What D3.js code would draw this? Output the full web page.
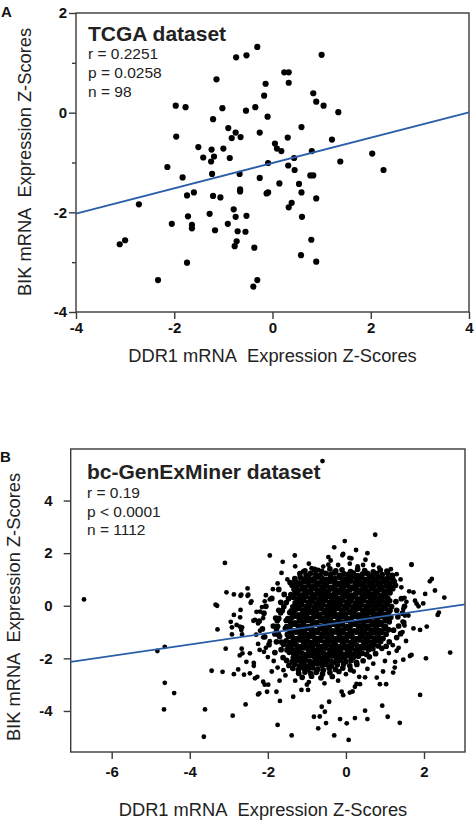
<!DOCTYPE html>
<html>
<head>
<meta charset="utf-8">
<script src="https://cdn.jsdelivr.net/npm/d3@7"></script>
<style>
  html, body { margin: 0; padding: 0; background: #fff; }
  svg { display: block; font-family: "Liberation Sans", Arial, Helvetica, sans-serif; }
</style>
</head>
<body>
<svg id="chart" width="474" height="828"></svg>
<script>
// ---------- Panel A : TCGA dataset ----------
const tcgaPoints = [
  [-0.31,1.32],[-0.74,1.11],[-0.53,1.15],[1.00,1.16],[0.24,0.81],[0.33,0.81],[0.33,0.60],[-1.14,0.67],
  [-0.14,0.58],[-0.17,0.34],[0.83,0.39],[0.89,0.22],[1.04,0.14],[1.34,0.01],[-1.97,0.14],[-1.77,0.11],
  [-1.02,0.09],[-0.54,0.04],[-0.35,0.11],[-0.10,-0.08],[-1.21,-0.13],[-1.96,-0.48],[-0.90,-0.31],[-0.83,-0.51],
  [-0.75,-0.40],[-0.65,-0.49],[-0.26,-0.40],[0.59,-0.29],[0.31,-0.50],[1.21,-0.54],[-1.51,-0.69],[-1.24,-0.74],
  [-1.00,-0.72],[-1.41,-0.90],[-1.19,-0.88],[-1.25,-0.98],[-0.87,-0.91],[0.05,-0.62],[0.09,-0.72],[0.18,-0.77],
  [0.80,-0.77],[0.44,-0.91],[1.38,-0.98],[2.03,-0.82],[2.26,-1.15],[-2.14,-1.09],[-1.83,-1.30],[-1.23,-1.23],
  [-0.67,-1.23],[-0.26,-1.31],[-0.09,-1.01],[0.32,-1.06],[0.45,-1.15],[0.14,-1.42],[0.54,-1.43],[0.77,-1.26],
  [0.83,-1.26],[-1.60,-1.60],[-1.74,-1.66],[-1.21,-1.67],[-1.06,-1.70],[-0.66,-1.54],[-0.66,-1.58],[-0.12,-1.62],
  [-0.09,-1.60],[0.59,-1.60],[0.89,-1.72],[0.39,-1.81],[0.33,-1.90],[-2.72,-1.84],[-1.28,-2.03],[-1.72,-2.08],
  [-0.79,-1.94],[-0.75,-2.09],[-0.53,-2.07],[0.60,-2.09],[-2.05,-2.23],[-1.64,-2.25],[-1.64,-2.32],[-1.17,-2.36],
  [-0.91,-2.23],[-0.71,-2.38],[-0.55,-2.39],[-3.11,-2.64],[-3.00,-2.56],[-0.73,-2.58],[-0.77,-2.68],[-0.37,-2.71],
  [0.79,-2.55],[0.58,-2.86],[0.89,-2.99],[-1.74,-3.01],[-2.33,-3.36],[-0.31,-3.36],[-0.39,-3.49]
];
const tcgaFit = [0.254, -1.01];           // slope, intercept
const tcgaXTicks = [-4, -2, 0, 2, 4];
const tcgaYTicks = [-4, -2, 0, 2];
const tcgaYMinor = [-3, -1, 1];
const tcgaStats = ["r = 0.2251", "p = 0.0258", "n = 98"];

// ---------- Panel B : bc-GenExMiner dataset ----------
const bcCore = [
  [-1.05,1.33],[-0.8,1.38],[-0.62,1.31],[-0.41,1.4],[-0.26,1.33],[-0.1,1.37],[0.12,1.3],[0.3,1.39],[0.48,1.34],[0.7,1.29],[0.88,1.36],[1.05,1.32],
  [-1.18,1.22],[-1.02,1.17],[-0.9,1.24],[-0.77,1.19],[-0.66,1.15],[-0.52,1.23],[-0.4,1.18],[-0.3,1.25],[-0.17,1.16],[-0.05,1.21],[0.06,1.19],[0.19,1.24],[0.3,1.15],[0.42,1.2],[0.55,1.23],[0.68,1.17],[0.79,1.22],[0.93,1.18],[1.07,1.24],[1.19,1.16],
  [-1.31,1.03],[-1.17,1.08],[-1.06,1.01],[-0.95,1.06],[-0.83,1.02],[-0.73,1.09],[-0.61,1.04],[-0.5,1.0],[-0.39,1.07],[-0.28,1.03],[-0.16,1.08],[-0.06,1.01],[0.05,1.05],[0.16,1.09],[0.27,1.02],[0.39,1.06],[0.5,1.0],[0.61,1.08],[0.72,1.03],[0.84,1.07],[0.95,1.01],[1.07,1.05],[1.2,1.02],
  [-1.43,0.88],[-1.3,0.93],[-1.19,0.87],[-1.08,0.92],[-0.97,0.89],[-0.86,0.94],[-0.75,0.87],[-0.64,0.91],[-0.53,0.86],[-0.42,0.93],[-0.31,0.9],[-0.2,0.85],[-0.09,0.92],[0.02,0.88],[0.13,0.94],[0.24,0.87],[0.35,0.91],[0.46,0.86],[0.57,0.93],[0.68,0.89],[0.79,0.94],[0.9,0.87],[1.01,0.91],[1.12,0.86],[1.24,0.92],
  [-1.38,0.78],[-1.27,0.74],[-1.16,0.79],[-1.05,0.71],[-0.94,0.76],[-0.83,0.73],[-0.72,0.79],[-0.61,0.72],[-0.5,0.77],[-0.39,0.7],[-0.28,0.75],[-0.17,0.8],[-0.06,0.73],[0.05,0.77],[0.16,0.71],[0.27,0.76],[0.38,0.79],[0.49,0.72],[0.6,0.77],[0.71,0.74],[0.82,0.79],[0.93,0.71],[1.04,0.76],[1.15,0.73],[1.27,0.78],
  [-1.72,0.62],[-1.33,0.63],[-1.22,0.58],[-1.11,0.64],[-1.0,0.56],[-0.89,0.61],[-0.78,0.65],[-0.67,0.58],[-0.56,0.62],[-0.45,0.57],[-0.34,0.64],[-0.23,0.59],[-0.12,0.63],[-0.01,0.56],[0.1,0.61],[0.21,0.65],[0.32,0.58],[0.43,0.62],[0.54,0.57],[0.65,0.64],[0.76,0.59],[0.87,0.63],[0.98,0.56],[1.09,0.61],[1.2,0.65],
  [-1.58,0.43],[-1.41,0.42],[-1.29,0.47],[-1.18,0.41],[-1.07,0.46],[-0.96,0.49],[-0.85,0.42],[-0.74,0.47],[-0.63,0.43],[-0.52,0.48],[-0.41,0.41],[-0.3,0.45],[-0.19,0.5],[-0.08,0.43],[0.03,0.47],[0.14,0.41],[0.25,0.46],[0.36,0.49],[0.47,0.42],[0.58,0.47],[0.69,0.43],[0.8,0.48],[0.91,0.41],[1.02,0.45],[1.13,0.49],
  [-1.9,0.28],[-1.47,0.27],[-1.35,0.32],[-1.24,0.26],[-1.13,0.31],[-1.02,0.35],[-0.91,0.28],[-0.8,0.32],[-0.69,0.26],[-0.58,0.31],[-0.47,0.34],[-0.36,0.27],[-0.25,0.32],[-0.14,0.28],[-0.03,0.35],[0.08,0.29],[0.19,0.33],[0.3,0.26],[0.41,0.31],[0.52,0.35],[0.63,0.28],[0.74,0.32],[0.85,0.27],[0.96,0.33],[1.07,0.29],[1.42,0.27],
  [-1.67,0.13],[-1.53,0.12],[-1.3,0.11],[-1.19,0.16],[-1.08,0.2],[-0.97,0.13],[-0.86,0.17],[-0.75,0.11],[-0.64,0.16],[-0.53,0.19],[-0.42,0.12],[-0.31,0.17],[-0.2,0.13],[-0.09,0.2],[0.02,0.14],[0.13,0.18],[0.24,0.11],[0.35,0.16],[0.46,0.2],[0.57,0.13],[0.68,0.17],[0.79,0.12],[0.9,0.18],[1.01,0.14],[1.12,0.19],[1.28,0.16],
  [-2.05,-0.02],[-1.59,-0.03],[-1.36,-0.04],[-1.25,0.01],[-1.14,0.05],[-1.03,-0.02],[-0.92,0.02],[-0.81,-0.04],[-0.7,0.01],[-0.59,0.04],[-0.48,-0.03],[-0.37,0.02],[-0.26,-0.02],[-0.15,0.05],[-0.04,-0.01],[0.07,0.03],[0.18,-0.04],[0.29,0.01],[0.4,0.05],[0.51,-0.02],[0.62,0.02],[0.73,-0.03],[0.84,0.03],[0.95,-0.01],[1.06,0.04],[1.17,-0.03],[1.5,-0.02],
  [-1.72,-0.17],[-1.63,-0.18],[-1.4,-0.19],[-1.29,-0.14],[-1.18,-0.1],[-1.07,-0.17],[-0.96,-0.13],[-0.85,-0.19],[-0.74,-0.14],[-0.63,-0.11],[-0.52,-0.18],[-0.41,-0.13],[-0.3,-0.17],[-0.19,-0.1],[-0.08,-0.16],[0.03,-0.12],[0.14,-0.19],[0.25,-0.14],[0.36,-0.1],[0.47,-0.17],[0.58,-0.13],[0.69,-0.18],[0.8,-0.12],[0.91,-0.16],[1.02,-0.11],[1.13,-0.18],[1.3,-0.17],
  [-2.1,-0.28],[-1.67,-0.27],[-1.44,-0.26],[-1.33,-0.31],[-1.22,-0.35],[-1.11,-0.28],[-1.0,-0.32],[-0.89,-0.26],[-0.78,-0.31],[-0.67,-0.34],[-0.56,-0.27],[-0.45,-0.32],[-0.34,-0.28],[-0.23,-0.35],[-0.12,-0.29],[-0.01,-0.33],[0.1,-0.26],[0.21,-0.31],[0.32,-0.35],[0.43,-0.28],[0.54,-0.32],[0.65,-0.27],[0.76,-0.33],[0.87,-0.29],[0.98,-0.34],[1.09,-0.27],[1.45,-0.28],
  [-1.8,-0.47],[-1.72,-0.48],[-1.49,-0.49],[-1.38,-0.44],[-1.27,-0.4],[-1.16,-0.47],[-1.05,-0.43],[-0.94,-0.49],[-0.83,-0.44],[-0.72,-0.41],[-0.61,-0.48],[-0.5,-0.43],[-0.39,-0.47],[-0.28,-0.4],[-0.17,-0.46],[-0.06,-0.42],[0.05,-0.49],[0.16,-0.44],[0.27,-0.4],[0.38,-0.47],[0.49,-0.43],[0.6,-0.48],[0.71,-0.42],[0.82,-0.46],[0.93,-0.41],[1.04,-0.48],[1.15,-0.44],[1.33,-0.42],
  [-2.22,-0.58],[-1.76,-0.57],[-1.53,-0.56],[-1.42,-0.61],[-1.31,-0.65],[-1.2,-0.58],[-1.09,-0.62],[-0.98,-0.56],[-0.87,-0.61],[-0.76,-0.64],[-0.65,-0.57],[-0.54,-0.62],[-0.43,-0.58],[-0.32,-0.65],[-0.21,-0.59],[-0.1,-0.63],[0.01,-0.56],[0.12,-0.61],[0.23,-0.65],[0.34,-0.58],[0.45,-0.62],[0.56,-0.57],[0.67,-0.63],[0.78,-0.59],[0.89,-0.64],[1.0,-0.57],[1.11,-0.61],[1.48,-0.63],
  [-1.86,-0.77],[-1.75,-0.78],[-1.52,-0.79],[-1.41,-0.74],[-1.3,-0.7],[-1.19,-0.77],[-1.08,-0.73],[-0.97,-0.79],[-0.86,-0.74],[-0.75,-0.71],[-0.64,-0.78],[-0.53,-0.73],[-0.42,-0.77],[-0.31,-0.7],[-0.2,-0.76],[-0.09,-0.72],[0.02,-0.79],[0.13,-0.74],[0.24,-0.7],[0.35,-0.77],[0.46,-0.73],[0.57,-0.78],[0.68,-0.72],[0.79,-0.76],[0.9,-0.71],[1.01,-0.78],[1.35,-0.77],
  [-2.14,-0.88],[-1.78,-0.87],[-1.55,-0.86],[-1.44,-0.91],[-1.33,-0.95],[-1.22,-0.88],[-1.11,-0.92],[-1.0,-0.86],[-0.89,-0.91],[-0.78,-0.94],[-0.67,-0.87],[-0.56,-0.92],[-0.45,-0.88],[-0.34,-0.95],[-0.23,-0.89],[-0.12,-0.93],[-0.01,-0.86],[0.1,-0.91],[0.21,-0.95],[0.32,-0.88],[0.43,-0.92],[0.54,-0.87],[0.65,-0.93],[0.76,-0.89],[0.87,-0.94],[0.98,-0.87],[1.09,-0.91],[1.22,-0.93],
  [-1.82,-1.07],[-1.73,-1.08],[-1.5,-1.09],[-1.39,-1.04],[-1.28,-1.0],[-1.17,-1.07],[-1.06,-1.03],[-0.95,-1.09],[-0.84,-1.04],[-0.73,-1.01],[-0.62,-1.08],[-0.51,-1.03],[-0.4,-1.07],[-0.29,-1.0],[-0.18,-1.06],[-0.07,-1.02],[0.04,-1.09],[0.15,-1.04],[0.26,-1.0],[0.37,-1.07],[0.48,-1.03],[0.59,-1.08],[0.7,-1.02],[0.81,-1.06],[0.92,-1.01],[1.03,-1.08],[1.4,-1.06],
  [-2.08,-1.18],[-1.7,-1.17],[-1.47,-1.16],[-1.36,-1.21],[-1.25,-1.25],[-1.14,-1.18],[-1.03,-1.22],[-0.92,-1.16],[-0.81,-1.21],[-0.7,-1.24],[-0.59,-1.17],[-0.48,-1.22],[-0.37,-1.18],[-0.26,-1.25],[-0.15,-1.19],[-0.04,-1.23],[0.07,-1.16],[0.18,-1.21],[0.29,-1.25],[0.4,-1.18],[0.51,-1.22],[0.62,-1.17],[0.73,-1.23],[0.84,-1.19],[0.95,-1.24],[1.3,-1.21],
  [-1.78,-1.37],[-1.65,-1.38],[-1.53,-1.33],[-1.42,-1.39],[-1.31,-1.34],[-1.2,-1.3],[-1.09,-1.37],[-0.98,-1.33],[-0.87,-1.39],[-0.76,-1.34],[-0.65,-1.31],[-0.54,-1.38],[-0.43,-1.33],[-0.32,-1.37],[-0.21,-1.3],[-0.1,-1.36],[0.01,-1.32],[0.12,-1.39],[0.23,-1.34],[0.34,-1.3],[0.45,-1.37],[0.56,-1.33],[0.67,-1.38],[0.78,-1.32],[0.89,-1.36],[1.11,-1.37],
  [-1.97,-1.48],[-1.6,-1.47],[-1.48,-1.52],[-1.37,-1.46],[-1.26,-1.51],[-1.15,-1.55],[-1.04,-1.48],[-0.93,-1.52],[-0.82,-1.46],[-0.71,-1.51],[-0.6,-1.54],[-0.49,-1.47],[-0.38,-1.52],[-0.27,-1.48],[-0.16,-1.55],[-0.05,-1.49],[0.06,-1.53],[0.17,-1.46],[0.28,-1.51],[0.39,-1.55],[0.5,-1.48],[0.61,-1.52],[0.72,-1.47],[0.83,-1.53],[1.03,-1.54],
  [-1.66,-1.67],[-1.51,-1.68],[-1.4,-1.63],[-1.29,-1.69],[-1.18,-1.64],[-1.07,-1.6],[-0.96,-1.67],[-0.85,-1.63],[-0.74,-1.69],[-0.63,-1.64],[-0.52,-1.61],[-0.41,-1.68],[-0.3,-1.63],[-0.19,-1.67],[-0.08,-1.6],[0.03,-1.66],[0.14,-1.62],[0.25,-1.69],[0.36,-1.64],[0.47,-1.6],[0.58,-1.67],[0.69,-1.63],[0.92,-1.62],
  [-1.82,-1.78],[-1.45,-1.77],[-1.34,-1.82],[-1.23,-1.76],[-1.12,-1.81],[-1.01,-1.85],[-0.9,-1.78],[-0.79,-1.82],[-0.68,-1.76],[-0.57,-1.81],[-0.46,-1.84],[-0.35,-1.77],[-0.24,-1.82],[-0.13,-1.78],[-0.02,-1.85],[0.09,-1.79],[0.2,-1.83],[0.31,-1.76],[0.42,-1.81],[0.53,-1.85],[0.76,-1.82],
  [-1.61,-1.97],[-1.35,-1.98],[-1.24,-1.93],[-1.13,-1.99],[-1.02,-1.94],[-0.91,-1.9],[-0.8,-1.97],[-0.69,-1.93],[-0.58,-1.99],[-0.47,-1.94],[-0.36,-1.91],[-0.25,-1.98],[-0.14,-1.93],[-0.03,-1.97],[0.08,-1.9],[0.19,-1.96],[0.32,-1.92],[0.6,-1.94],
  [-1.52,-2.08],[-1.38,-2.13],[-1.26,-2.07],[-1.15,-2.12],[-1.04,-2.06],[-0.93,-2.11],[-0.82,-2.15],[-0.71,-2.08],[-0.6,-2.12],[-0.49,-2.06],[-0.38,-2.11],[-0.27,-2.14],[-0.14,-2.07],[0.0,-2.12],[0.13,-2.08],[0.27,-2.15],[0.44,-2.09],
  [-1.46,-2.27],[-1.31,-2.22],[-1.19,-2.28],[-1.07,-2.23],[-0.96,-2.29],[-0.85,-2.24],[-0.73,-2.2],[-0.61,-2.27],[-0.5,-2.23],[-0.37,-2.29],[-0.22,-2.24],[-0.06,-2.21],[0.1,-2.28],[0.28,-2.23],
  [-1.36,-2.38],[-1.22,-2.43],[-1.09,-2.37],[-0.97,-2.42],[-0.85,-2.36],[-0.72,-2.41],[-0.58,-2.45],[-0.43,-2.38],[-0.27,-2.42],[-0.08,-2.37],[0.12,-2.43],
  [-1.21,-2.57],[-1.05,-2.52],[-0.9,-2.58],[-0.76,-2.53],[-0.6,-2.59],[-0.41,-2.54],[-0.18,-2.5],
  [-1.12,-2.72],[-0.88,-2.68],[-0.64,-2.74],[-0.35,-2.69]
];
const bcFringe = [
  [-0.6,5.5],[0.75,2.7],[-3.1,1.63],[-1.95,1.91],[-1.31,1.91],[-1.62,1.67],[-1.65,1.25],[-0.03,2.46],[-0.3,2.22],[0.26,2.12],
  [-0.09,1.92],[0.09,1.82],[0.55,2.0],[1.68,1.56],[-0.45,1.85],[-0.39,1.72],[-0.58,1.49],[-0.45,1.56],[-1.1,1.3],[-0.88,1.43],
  [-0.71,1.36],[0.14,1.8],[0.44,1.55],[1.15,1.39],[-0.07,1.97],[0.1,1.6],[-0.2,1.55],[0.3,1.5],[0.7,1.55],
  [-6.71,0.24],[-3.06,0.51],[-2.87,0.43],[-2.7,0.38],[-2.52,0.66],[-2.52,0.38],[-2.44,0.11],[-3.34,0.04],[-3.3,0.0],
  [-2.87,-0.35],[-2.7,-0.16],[-2.71,-0.44],[-2.95,-0.61],[-2.8,-0.73],[-2.92,-0.82],[-2.66,-0.82],[-2.92,-1.09],[-2.66,-1.09],
  [-3.29,-0.9],[-2.29,-0.23],[-2.37,-0.57],[-2.25,-0.67],[-3.08,-1.63],[-2.67,-1.63],[-2.65,-1.81],[-2.72,-1.89],[-2.46,-1.81],
  [-2.55,-2.13],[-2.36,-2.17],[-2.36,-2.28],[-2.21,-1.68],[-3.44,-2.47],[-3.16,-2.51],[-2.87,-2.6],[-2.76,-2.42],[-2.61,-2.62],
  [-2.46,-2.57],[-2.33,-2.76],[-2.27,-2.7],[-2.25,-3.37],[-2.57,-3.75],[-2.9,-4.18],[-3.61,-3.94],[-4.66,-3.94],[-3.64,-4.98],
  [-4.64,-2.93],[-4.4,-3.32],[-4.83,-1.72],[-4.64,-1.56],
  [-2.5,0.42],[-2.68,0.42],[-2.42,0.17],[-1.87,0.63],[-2.08,0.17],[-1.95,0.24],[-2.2,-0.22],[-2.33,-0.54],[-2.12,-0.47],
  [-2.68,-0.92],[-2.72,-0.79],[-2.12,-1.2],[-2.25,-1.45],[-2.05,-1.6],[-2.0,-1.95],[-1.85,-2.1],[-1.75,-2.35],[-1.9,-2.5],
  [-1.6,-2.45],[-1.55,-2.65],[-2.12,-2.89],[-2.08,-3.0],[-1.99,-3.0],[-2.22,-3.33],[-2.02,-3.27],[-1.78,-3.27],[-1.14,-3.2],
  [-0.97,-3.2],[-1.69,-3.62],[-1.35,-3.46],[-1.75,-4.53],[-1.39,-4.93],
  [-0.62,-3.84],[-0.67,-4.21],[-0.54,-4.03],[-0.82,-4.22],[-0.43,-3.65],[-0.71,-4.66],[-0.51,-4.46],[-0.3,-4.93],[-0.15,-4.31],
  [0.02,-4.47],[0.23,-4.27],[0.07,-5.1],[-0.11,-3.27],[-0.07,-3.4],[0.1,-3.3],[0.23,-3.08],
  [0.34,-2.7],[0.49,-2.72],[0.79,-2.73],[0.27,-2.97],[0.36,-2.98],[0.87,-2.98],[1.03,-2.98],[0.17,-3.26],[1.9,-3.39],
  [0.93,-3.8],[0.49,-3.99],[0.55,-4.31],[1.07,-4.22],[1.38,-4.45],
  [-1.3,-2.85],[-0.95,-2.9],[-0.55,-2.95],[-0.2,-2.85],[0.0,-2.6],[0.2,-2.5],[0.55,-2.4],[0.7,-2.2],
  [1.3,-1.71],[1.26,-2.13],[1.47,-2.05],[1.64,-1.91],[1.68,-1.87],[2.05,-2.0],[2.67,-1.78],[1.21,-2.54],[1.68,1.57],
  [2.2,1.02],[2.15,0.93],[1.73,0.51],[2.03,0.45],[2.28,0.58],[2.52,0.31],[1.77,0.19],[1.81,0.08],[1.86,-0.02],
  [2.38,-0.26],[2.35,-0.35],[1.47,-0.12],[1.6,-0.37],[1.51,-0.37],[1.73,-0.86],[1.9,-0.92],[2.07,-0.79],[1.54,-1.34],
  [1.45,-0.6],[1.5,0.3],[1.42,0.7],[1.4,1.0],[1.45,-1.0],[1.2,-1.5],[1.1,-1.8],[1.0,-2.1],[1.3,1.2],[1.98,0.09],
  [-2.15,-0.05],[-2.05,0.4],[-1.95,-1.35],[-2.2,-0.95],[-2.1,-1.75],[1.55,0.15],[1.5,-0.75],[1.62,0.55],[1.35,-1.6],
  [-1.3,1.5],[-0.95,1.6],[0.5,1.75],[0.85,1.45],[-1.75,0.85],[-1.5,1.0],[-2.3,-1.1],[1.25,-2.35],[0.95,-2.5],
  [-1.7,-2.85],[-1.0,-3.0]
];
const bcFit = [0.216, -0.609];
const bcXTicks = [-6, -4, -2, 0, 2];
const bcYTicks = [-4, -2, 0, 2, 4];
const bcStats = ["r = 0.19", "p < 0.0001", "n = 1112"];

const xTitle = "DDR1 mRNA\u00a0\u00a0Expression Z-Scores";
const yTitle = "BIK mRNA\u00a0\u00a0Expression Z-Scores";

// ---------- drawing ----------
const svg = d3.select("#chart");
const ink = "#111";
const frameCol = "#3a3a3a";
const fitCol = "#2b5ea8";

function panel(cfg) {
  const x = d3.scaleLinear().domain(cfg.xDomain).range(cfg.xRange);
  const y = d3.scaleLinear().domain(cfg.yDomain).range(cfg.yRange);
  const g = svg.append("g");

  const xa = g.append("g").attr("transform", `translate(0,${cfg.yRange[0]})`)
    .call(d3.axisBottom(x).tickValues(cfg.xTicks).tickSize(7).tickPadding(cfg.xPad).tickFormat(d3.format("d")));
  const ya = g.append("g").attr("transform", `translate(${cfg.xRange[0]},0)`)
    .call(d3.axisLeft(y).tickValues(cfg.yTicks).tickSize(7).tickPadding(cfg.yPad).tickFormat(d3.format("d")));
  [xa, ya].forEach(a => {
    a.select(".domain").remove();
    a.selectAll("line").attr("stroke", frameCol).attr("stroke-width", 1.4);
    a.selectAll("text").attr("fill", ink).style("font-size", "15px").style("font-weight", "bold")
      .style("font-family", "'Liberation Sans', Arial, sans-serif")
      .text(d => d < 0 ? "-" + Math.abs(d) : String(d));
  });
  if (cfg.yMinor) {
    g.append("g").attr("transform", `translate(${cfg.xRange[0]},0)`)
      .call(d3.axisLeft(y).tickValues(cfg.yMinor).tickSize(4).tickFormat(""))
      .call(a => a.select(".domain").remove())
      .selectAll("line").attr("stroke", frameCol).attr("stroke-width", 1.4);
  }

  g.append("rect")
    .attr("x", cfg.xRange[0]).attr("y", cfg.yRange[1])
    .attr("width", cfg.xRange[1] - cfg.xRange[0]).attr("height", cfg.yRange[0] - cfg.yRange[1])
    .attr("fill", "none").attr("stroke", frameCol).attr("stroke-width", 1.4);

  cfg.sets.forEach(s => {
    g.append("g").selectAll("circle").data(s.points).join("circle")
      .attr("cx", d => x(d[0])).attr("cy", d => y(d[1])).attr("r", s.r).attr("fill", "#000");
  });

  const [x0, x1] = cfg.xDomain;
  g.append("line")
    .attr("x1", x(x0)).attr("y1", y(cfg.fit[0] * x0 + cfg.fit[1]))
    .attr("x2", x(x1)).attr("y2", y(cfg.fit[0] * x1 + cfg.fit[1]))
    .attr("stroke", fitCol).attr("stroke-width", cfg.lw);

  g.append("text").attr("x", cfg.letterPos[0]).attr("y", cfg.letterPos[1])
    .text(cfg.letter).attr("fill", ink).style("font-size", "15px").style("font-weight", "bold");
  g.append("text").attr("x", cfg.statX).attr("y", cfg.titleY)
    .text(cfg.title).attr("fill", "#222").style("font-size", "21px").style("font-weight", "bold");
  g.append("g").selectAll("text").data(cfg.stats).join("text")
    .attr("x", cfg.statX).attr("y", (d, i) => cfg.statY0 + i * cfg.statDy)
    .text(d => d).attr("fill", "#222").style("font-size", "15.5px");

  g.append("text").attr("x", cfg.xTitlePos[0]).attr("y", cfg.xTitlePos[1])
    .attr("text-anchor", "middle").text(xTitle).attr("fill", "#222").style("font-size", "18.3px");
  g.append("text").attr("transform", `translate(${cfg.yTitlePos[0]},${cfg.yTitlePos[1]}) rotate(-90)`)
    .attr("text-anchor", "middle").text(yTitle).attr("fill", "#222").style("font-size", "18.3px");
}

panel({
  xDomain: [-4, 4], xRange: [76, 469],
  yDomain: [-4, 2], yRange: [312, 13],
  xTicks: tcgaXTicks, yTicks: tcgaYTicks, yMinor: tcgaYMinor,
  xPad: 3, yPad: 2,
  sets: [{ points: tcgaPoints, r: 3.1 }], fit: tcgaFit, lw: 2,
  letter: "A", letterPos: [1, 17],
  title: "TCGA dataset", statX: 88, titleY: 40.5,
  stats: tcgaStats, statY0: 59.3, statDy: 18.8,
  xTitlePos: [272.5, 362], yTitlePos: [31, 162]
});

panel({
  xDomain: [-7.05, 3.05], xRange: [70.7, 465],
  yDomain: [-5.56, 5.96], yRange: [752, 449],
  xTicks: bcXTicks, yTicks: bcYTicks, yMinor: null,
  xPad: 7, yPad: 11,
  sets: [{ points: bcCore, r: 2.85 }, { points: bcFringe, r: 2.4 }], fit: bcFit, lw: 1.8,
  letter: "B", letterPos: [0, 462],
  title: "bc-GenExMiner dataset", statX: 87, titleY: 479,
  stats: bcStats, statY0: 498.3, statDy: 18.4,
  xTitlePos: [263, 816], yTitlePos: [20, 607]
});
</script>
</body>
</html>
